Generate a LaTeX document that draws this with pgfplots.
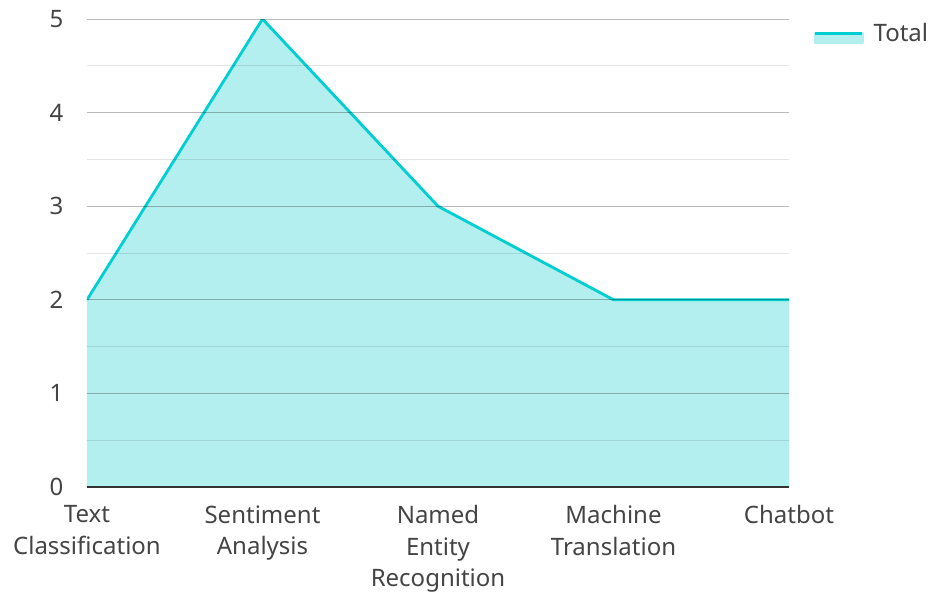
\documentclass[border=0pt]{standalone}
\usepackage{fontspec}
\setmainfont{Noto Sans}
\usepackage{pgfplots}
\pgfplotsset{compat=1.18}
\definecolor{lc}{RGB}{0,206,209}
\definecolor{fc}{RGB}{178,239,238}
\definecolor{tc}{RGB}{68,68,68}
\begin{document}
\begin{tikzpicture}
\useasboundingbox (-87pt,-105pt) rectangle (843pt,487pt);
\begin{axis}[
  scale only axis,
  width=702pt, height=468pt,
  xmin=0, xmax=4, ymin=0, ymax=5,
  xtick={0,1,2,3,4},
  xticklabels={{Text\\Classification},{Sentiment\\Analysis},{Named\\Entity\\Recognition},{Machine\\Translation},{Chatbot}},
  ytick={0,1,2,3,4,5},
  minor ytick={0.5,1.5,2.5,3.5,4.5},
  ymajorgrids, yminorgrids,
  major grid style={black, opacity=0.27, line width=0.8pt},
  minor grid style={black, opacity=0.1, line width=0.8pt},
  major tick length=0pt, minor tick length=0pt,
  axis on top,
  axis x line*=bottom,
  axis y line*=left,
  y axis line style={draw=none},
  x axis line style={draw=black!80, line width=1.6pt, -},
  /pgf/number format/assume math mode=true,
  tick label style={font=\fontsize{24}{31.5}\selectfont, text=tc},
  xticklabel style={align=center, yshift=-15pt},
  yticklabel style={xshift=-20pt},
  legend style={draw=none, fill=none, at={(axis cs:4.122,5)}, anchor=north west, font=\fontsize{24}{28}\selectfont, text=tc,
    /tikz/every odd column/.append style={column sep=8pt}},
  legend cell align=left,
  legend image code/.code={
    \fill[fc] (0pt,-10pt) rectangle (47pt,0pt);
    \draw[lc, line width=3pt] (0pt,0pt) -- (47pt,0pt);
  },
]
\addplot[draw=none, fill=fc, forget plot] coordinates {(0,2) (1,5) (2,3) (3,2) (4,2)} \closedcycle;
\addplot[draw=lc, line width=2.8pt, line join=round] coordinates {(0,2) (1,5) (2,3) (3,2) (4,2)};
\addlegendentry{Total}
\end{axis}
\end{tikzpicture}
\end{document}
